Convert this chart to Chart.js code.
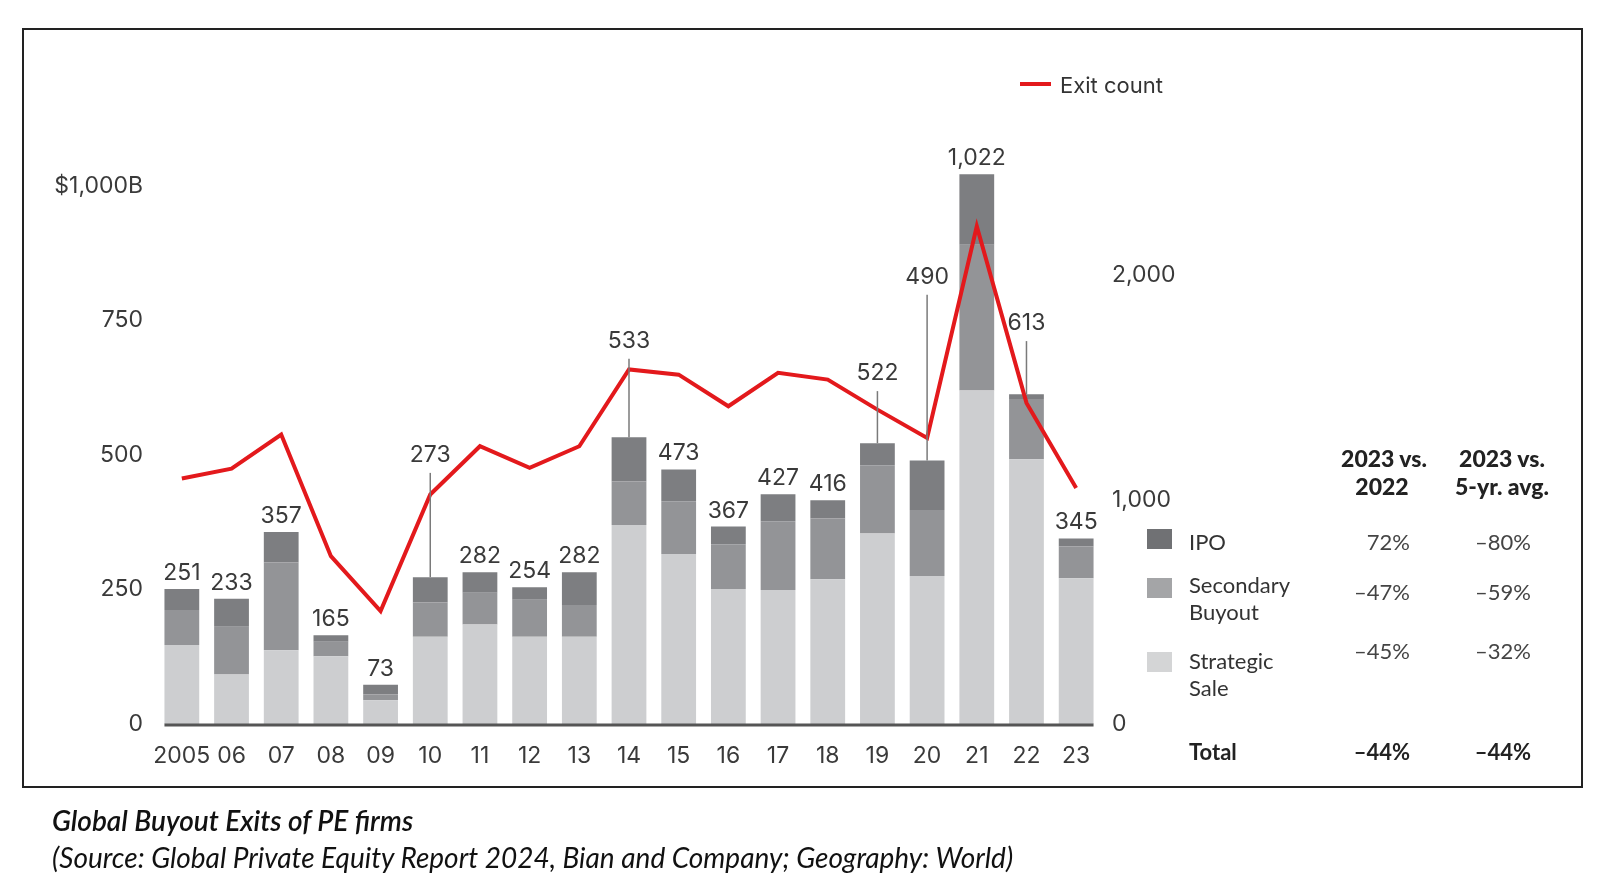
<!DOCTYPE html>
<html>
<head>
<meta charset="utf-8">
<script src="https://cdn.jsdelivr.net/npm/chart.js@4.4.1/dist/chart.umd.min.js"></script>
<style>
  body { margin: 0; background: #fff; width: 1600px; height: 888px; position: relative; overflow: hidden; }
  canvas { position: absolute; left: 0; top: 0; }
  #frame { position: absolute; left: 22px; top: 28px; width: 1561px; height: 760px; box-sizing: border-box; border: 2px solid #222; }
  .t { position: absolute; font-family: Lato, sans-serif; font-size: 22px; color: #333; line-height: 1; white-space: nowrap; transform: translateY(-50%); }
  .b { font-weight: bold; color: #222; }
  .h { font-size: 23px; font-weight: 900; }
  .c { text-align: center; transform: translate(-50%, -50%); }
  .r { text-align: right; transform: translate(-100%, -50%); color: #444; }
  .sw { position: absolute; width: 25px; height: 20px; }
  #legLine { position: absolute; left: 1020px; top: 82px; width: 31px; height: 4px; background: #e3191c; }
  #legText { position: absolute; left: 1060px; top: 85px; transform: translateY(-50%); font: 22px Inter, sans-serif; color: #333; }
  .cap { position: absolute; left: 52px; font-family: Lato, sans-serif; font-style: italic; font-size: 28px; color: #111; transform: translateY(-50%); white-space: nowrap; }
</style>
</head>
<body>
<canvas id="chart" width="1600" height="888"></canvas>
<div id="frame"></div>
<div id="legLine"></div>
<div id="legText">Exit count</div>
<div id="table"></div>
<div class="cap" style="top:820px;font-weight:600">Global Buyout Exits of PE firms</div>
<div class="cap" style="top:857px">(Source: Global Private Equity Report 2024, Bian and Company; Geography: World)</div>

<script>
// values ($B and exit count)
const years = ["2005", "06", "07", "08", "09", "10", "11", "12", "13", "14", "15", "16", "17", "18", "19", "20", "21", "22", "23"];
const strategicSale = [147, 92, 137, 126, 44, 162, 185, 162, 162, 370, 316, 251, 249, 269, 354, 275, 620, 492, 271];
const secondaryBuyout = [65, 89, 163, 27, 11, 64, 59, 69, 59, 81, 98, 83, 128, 113, 127, 123, 271, 112, 59];
const ipo = [39, 52, 57, 12, 18, 47, 38, 23, 61, 82, 59, 33, 50, 34, 41, 92, 131, 9, 15];
const totals = [251, 233, 357, 165, 73, 273, 282, 254, 282, 533, 473, 367, 427, 416, 522, 490, 1022, 613, 345];
const exitCount = [1094, 1138, 1290, 748, 503, 1023, 1238, 1142, 1238, 1580, 1557, 1416, 1565, 1535, 1401, 1275, 2218, 1431, 1052];

const leftTicks = [0, 250, 500, 750, 1000];
const rightTicks = [0, 1000, 2000];

// labels lifted above the red line, level given in $B
const calloutLevel = { 5: 504, 9: 716, 14: 656, 15: 835, 17: 749 };

// side table
const rowNames = ["IPO", "Secondary|Buyout", "Strategic|Sale", "Total"];
const vs2022 = ["72%", "–47%", "–45%", "–44%"];
const vs5yr = ["–80%", "–59%", "–32%", "–44%"];

const colIPO = "#7d7e81", colSB = "#939497", colSS = "#cdced0";

// build table
const rowY = [542, 592, 651, 752];
const swatch = [["#707174", 529], ["#a4a5a7", 578], ["#d4d5d6", 652]];
let html = '<div class="t b h c" style="left:1384px;top:458px">2023 vs.</div>' +
  '<div class="t b h c" style="left:1382px;top:486px">2022</div>' +
  '<div class="t b h c" style="left:1502px;top:458px">2023 vs.</div>' +
  '<div class="t b h c" style="left:1502px;top:486px">5-yr. avg.</div>';
swatch.forEach(s => { html += `<div class="sw" style="left:1147px;top:${s[1]}px;background:${s[0]}"></div>`; });
rowNames.forEach((n, i) => {
  const parts = n.split("|");
  const bold = i === 3 ? " b" : "";
  const y0 = i === 3 ? 752 : [542, 585, 661][i];
  parts.forEach((p, k) => { html += `<div class="t${bold}" style="left:1189px;top:${y0 + k * 27}px">${p}</div>`; });
  const rb = i === 3 ? "font-weight:bold;color:#222;" : "";
  html += `<div class="t r" style="left:1410px;top:${rowY[i]}px;${rb}">${vs2022[i]}</div>`;
  html += `<div class="t r" style="left:1531px;top:${rowY[i]}px;${rb}">${vs5yr[i]}</div>`;
});
document.getElementById("table").innerHTML = html;

const axisFont = { family: "Inter", size: 23 };
const textCol = "#3a3a3a";

const barLabels = {
  id: "barLabels",
  afterDatasetsDraw(chart) {
    const { ctx, chartArea } = chart;
    const y = chart.scales.y;
    const tops = chart.getDatasetMeta(3).data;
    ctx.save();
    // baseline from first bar to last bar
    const a = tops[0], b = tops[tops.length - 1];
    ctx.strokeStyle = "#555";
    ctx.lineWidth = 3;
    ctx.beginPath();
    ctx.moveTo(a.x - a.width / 2, chartArea.bottom + 1);
    ctx.lineTo(b.x + b.width / 2, chartArea.bottom + 1);
    ctx.stroke();

    ctx.font = "23px Inter";
    ctx.fillStyle = textCol;
    ctx.textAlign = "center";
    ctx.textBaseline = "middle";
    totals.forEach((t, i) => {
      const bx = tops[i].x;
      const barTop = y.getPixelForValue(t);
      const txt = t.toLocaleString("en-US");
      if (calloutLevel[i] !== undefined) {
        const ly = y.getPixelForValue(calloutLevel[i]);
        ctx.strokeStyle = "#7a7a7a";
        ctx.lineWidth = 1.5;
        ctx.beginPath();
        ctx.moveTo(bx, ly + 20);
        ctx.lineTo(bx, barTop);
        ctx.stroke();
        ctx.fillText(txt, bx, ly + 2);
      } else {
        ctx.fillText(txt, bx, barTop - 16);
      }
    });
    ctx.restore();
  }
};

new Chart(document.getElementById("chart"), {
  data: {
    labels: years,
    datasets: [
      { type: "line", label: "Exit count", data: exitCount, yAxisID: "yR", borderColor: "#e3191c", borderWidth: 4, pointRadius: 0, tension: 0, order: 0 },
      { type: "bar", label: "Strategic Sale", data: strategicSale, backgroundColor: colSS, yAxisID: "y", stack: "s", order: 1 },
      { type: "bar", label: "Secondary Buyout", data: secondaryBuyout, backgroundColor: colSB, yAxisID: "y", stack: "s", order: 1 },
      { type: "bar", label: "IPO", data: ipo, backgroundColor: colIPO, yAxisID: "y", stack: "s", order: 1 }
    ]
  },
  options: {
    responsive: false,
    animation: false,
    layout: { padding: { top: 100, left: 0, right: 0, bottom: 0 } },
    datasets: { bar: { categoryPercentage: 1, barPercentage: 0.7 } },
    plugins: { legend: { display: false }, tooltip: { enabled: false } },
    scales: {
      x: {
        stacked: true,
        grid: { display: false },
        border: { display: false },
        ticks: { font: axisFont, color: textCol, padding: 10, maxRotation: 0, autoSkip: false },
        afterFit: s => { s.height = 888 - 724; }
      },
      y: {
        stacked: true,
        position: "left",
        min: 0, max: 1160,
        grid: { display: false },
        border: { display: false },
        afterBuildTicks: s => { s.ticks = leftTicks.map(v => ({ value: v })); },
        ticks: { font: axisFont, color: textCol, padding: 6, callback: v => v === 1000 ? "$1,000B" : v },
        afterFit: s => { s.width = 157; }
      },
      yR: {
        position: "right",
        min: 0, max: 2781,
        grid: { display: false },
        border: { display: false },
        afterBuildTicks: s => { s.ticks = rightTicks.map(v => ({ value: v })); },
        ticks: { font: axisFont, color: textCol, padding: 3, callback: v => v.toLocaleString("en-US") },
        afterFit: s => { s.width = 1600 - 1101; }
      }
    }
  },
  plugins: [barLabels]
});
</script>
</body>
</html>
